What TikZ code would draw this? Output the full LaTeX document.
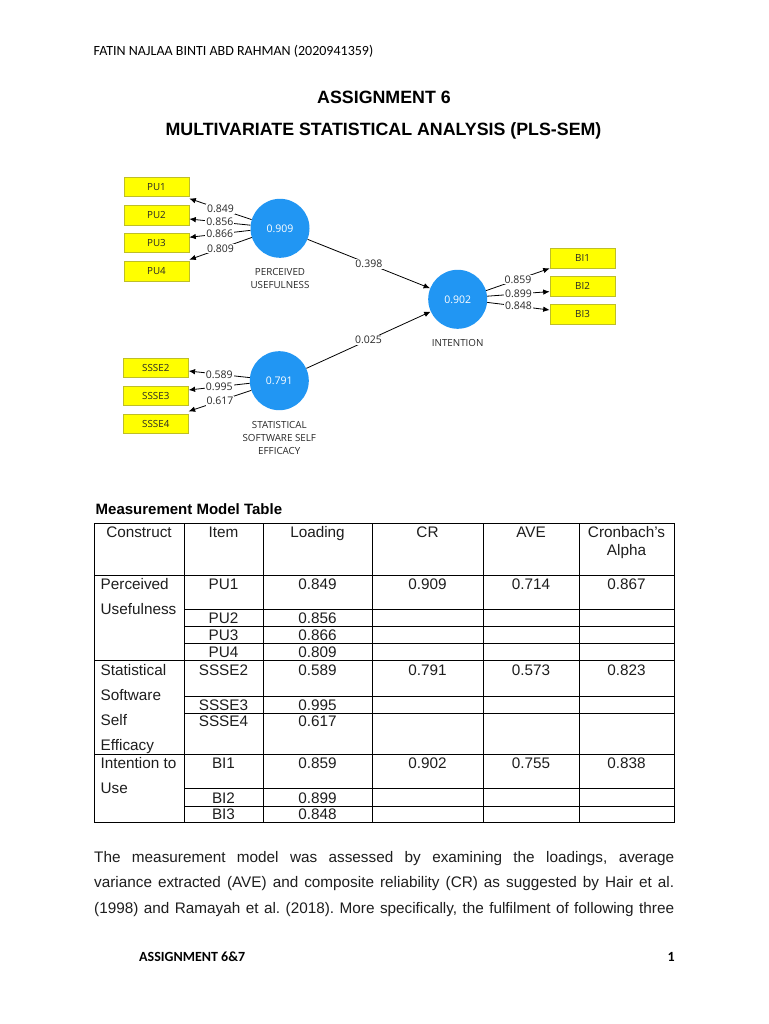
\documentclass[tikz,border=0pt]{standalone}
\usepackage{fontspec}
\setmainfont{Liberation Sans}
\newfontfamily\carlito{Carlito}
\newfontfamily\osans{Open Sans}
\usetikzlibrary{arrows.meta,calc}
\frenchspacing
\definecolor{plsblue}{RGB}{33,150,243}
\definecolor{plsyellow}{RGB}{255,255,0}
\definecolor{boxedge}{RGB}{190,190,40}
\definecolor{txt}{RGB}{30,30,30}
\definecolor{dtxt}{RGB}{40,40,40}
\tikzset{
  ind/.style={rectangle, fill=plsyellow, draw=boxedge, line width=0.6pt, minimum width=65pt, minimum height=19.5pt, inner sep=0pt, font=\osans\fontsize{9.8}{11}\selectfont, text=dtxt},
  lv/.style={circle, fill=plsblue, minimum size=59pt, inner sep=0pt, font=\osans\fontsize{10.5}{11}\selectfont, text=white},
  lvlab/.style={font=\osans\fontsize{9.8}{13.2}\selectfont, text=dtxt, align=center, inner sep=0pt},
  ld/.style={font=\osans\fontsize{10.5}{11}\selectfont, text=dtxt, fill=white, inner sep=1pt},
  conn/.style={-{Latex[length=6.5pt,width=5.5pt]}, line width=0.8pt, black},
  cell/.style={anchor=base, inner sep=0pt, font=\fontsize{15.3}{18}\selectfont, text=txt},
  lcell/.style={cell, anchor=base west},
  gridline/.style={line width=0.9pt, black},
}
\begin{document}
\begin{tikzpicture}[x=1pt,y=-1pt]
\fill[white] (0,0) rectangle (768,1024);
\useasboundingbox (0,0) rectangle (768,1024);

% header
\node[anchor=base west, inner sep=0pt, font=\carlito\fontsize{14}{16}\selectfont] (author) at (93.5,55.5) {FATIN NAJLAA BINTI ABD RAHMAN (2020941359)};
\node[anchor=base, inner sep=0pt, font=\bfseries\fontsize{17.8}{20}\selectfont] (title1) at (384,104) {ASSIGNMENT 6};
\node[anchor=base, inner sep=0pt, font=\bfseries\fontsize{17.8}{20}\selectfont] (title2) at (383.5,136) {MULTIVARIATE STATISTICAL ANALYSIS (PLS-SEM)};

% diagram: latent variables
\node[lv] (pu) at (280,228.3) {0.909};
\node[lv] (ss) at (279.3,380.7) {0.791};
\node[lv] (int) at (457.7,299.3) {0.902};
\node[lvlab] (pulab) at (280,278.4) {PERCEIVED\\USEFULNESS};
\node[lvlab] (intlab) at (457.7,343.3) {INTENTION};
\node[lvlab] (sslab) at (279.3,438) {STATISTICAL\\SOFTWARE SELF\\EFFICACY};

% indicators
\node[ind] (pu1) at (156.5,187) {PU1};
\node[ind] (pu2) at (156.5,215.3) {PU2};
\node[ind] (pu3) at (156.5,243) {PU3};
\node[ind] (pu4) at (156.5,271.2) {PU4};
\node[ind] (ss2) at (155.8,368) {SSSE2};
\node[ind] (ss3) at (155.8,395.8) {SSSE3};
\node[ind] (ss4) at (155.8,423.7) {SSSE4};
\node[ind] (bi1) at (582.5,258.3) {BI1};
\node[ind] (bi2) at (582.5,286.3) {BI2};
\node[ind] (bi3) at (582.5,314.2) {BI3};

% outer loadings
\draw[conn] (pu.163) -- node[ld] {0.849} ($(pu1.south east)+(0,1.5)$);
\draw[conn] (pu.174) -- node[ld] {0.856} ($(pu2.east)+(0,3.7)$);
\draw[conn] (pu.184) -- node[ld] {0.866} ($(pu3.east)+(0,-5.7)$);
\draw[conn] (pu.198) -- node[ld] {0.809} ($(pu4.north east)+(0,-1.5)$);
\draw[conn] (ss.174.5) -- node[ld] {0.589} ($(ss2.east)+(0,3)$);
\draw[conn] (ss.185) -- node[ld] {0.995} ($(ss3.east)+(0,-5.8)$);
\draw[conn] (ss.199) -- node[ld] {0.617} ($(ss4.north east)+(0,-2.3)$);
\draw[conn] (int.17.8) -- node[ld] {0.859} (bi1.south west);
\draw[conn] (int.6.7) -- node[ld] {0.899} ($(bi2.west)+(0,5.3)$);
\draw[conn] (int.-6.3) -- node[ld] {0.848} ($(bi3.west)+(0,-4.2)$);

% path coefficients
\draw[conn] (pu) -- node[ld] {0.398} (int);
\draw[conn] (ss) -- node[ld] {0.025} (int);

% table title
\node[anchor=base west, inner sep=0pt, font=\bfseries\fontsize{15}{18}\selectfont] (tabtitle) at (95.5,514.5) {Measurement Model Table};

% table grid
\foreach \yy in {523.3,575,660.7,754,822.7}
  \draw[gridline] (94,\yy) -- (674,\yy);
\foreach \yy in {609.3,626.7,643.3,696,713.3,788.3,806}
  \draw[gridline] (184,\yy) -- (674,\yy);
\foreach \xx in {94,184,263,372,483,579,674}
  \draw[gridline] (\xx,523.3) -- (\xx,822.7);

% header row
\node[cell] (h-con) at (139,537.8) {Construct};
\node[cell] (h-item) at (223.5,537.8) {Item};
\node[cell] (h-load) at (317.5,537.8) {Loading};
\node[cell] (h-cr) at (427.5,537.8) {CR};
\node[cell] (h-ave) at (531,537.8) {AVE};
\node[cell] (h-alpha1) at (626.5,537.8) {Cronbach's};
\node[cell] (h-alpha2) at (626.5,555.5) {Alpha};

% construct names
\foreach \yy/\word/\nm in {589.8/Perceived/c1,614.8/Usefulness/c2,675.2/Statistical/c3,700.8/Software/c4,725.5/Self/c5,750.5/Efficacy/c6,768.8/Intention to/c7,793.8/Use/c8}
  \node[lcell] (con-\nm) at (100.5,\yy) {\word};

% items and loadings
\foreach \yy/\itm/\lo/\nm in {589.8/PU1/0.849/r1,623.5/PU2/0.856/r2,640.5/PU3/0.866/r3,657.2/PU4/0.809/r4,675.2/SSSE2/0.589/r5,710.2/SSSE3/0.995/r6,726/SSSE4/0.617/r7,768.8/BI1/0.859/r8,803.2/BI2/0.899/r9,819.8/BI3/0.848/r10}
{
  \node[cell] (item-\nm) at (223.5,\yy) {\itm};
  \node[cell] (load-\nm) at (317.5,\yy) {\lo};
}

% CR, AVE, alpha
\foreach \yy/\cr/\ave/\alp/\nm in {589.8/0.909/0.714/0.867/g1,675.2/0.791/0.573/0.823/g2,768.8/0.902/0.755/0.838/g3}
{
  \node[cell] (cr-\nm) at (427.5,\yy) {\cr};
  \node[cell] (ave-\nm) at (531,\yy) {\ave};
  \node[cell] (alpha-\nm) at (626.5,\yy) {\alp};
}

% paragraph
\node[anchor=base west, inner sep=0pt, font=\fontsize{15.3}{18}\selectfont, text=txt] (p1) at (94,862) {\makebox[580pt][s]{The measurement model was assessed by examining the loadings, average}};
\node[anchor=base west, inner sep=0pt, font=\fontsize{15.3}{18}\selectfont, text=txt] (p2) at (94,887.7) {\makebox[580pt][s]{variance extracted (AVE) and composite reliability (CR) as suggested by Hair et al.}};
\node[anchor=base west, inner sep=0pt, font=\fontsize{15.3}{18}\selectfont, text=txt] (p3) at (94,913.7) {\makebox[580pt][s]{(1998) and Ramayah et al. (2018). More specifically, the fulfilment of following three}};

% footer
\node[anchor=base west, inner sep=0pt, font=\carlito\bfseries\fontsize{14}{16}\selectfont] (foot) at (139,961.5) {ASSIGNMENT 6\&7};
\node[anchor=base east, inner sep=0pt, font=\carlito\bfseries\fontsize{14}{16}\selectfont] (pagenum) at (675,961.5) {1};
\end{tikzpicture}
\end{document}
